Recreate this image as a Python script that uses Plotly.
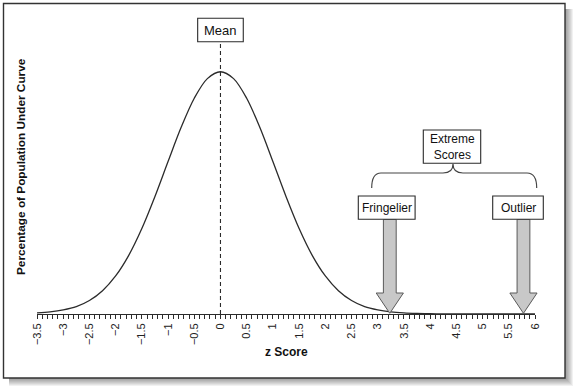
import plotly.graph_objects as go

# ---- data ----
z_scores = [-3.5, -3.25, -3.0, -2.75, -2.5, -2.25, -2.0, -1.75, -1.5, -1.25, -1.0, -0.75, -0.5, -0.25,
            0.0, 0.25, 0.5, 0.75, 1.0, 1.25, 1.5, 1.75, 2.0, 2.25, 2.5, 2.75, 3.0, 3.25, 3.5,
            3.75, 4.0, 4.25, 4.5, 4.75, 5.0, 5.25, 5.5, 5.75, 6.0]
percent_under_curve = [0.19, 0.35, 0.65, 1.16, 2.13, 3.69, 6.03, 9.30, 13.55, 18.63, 24.17, 29.59, 34.20, 37.31,
                       38.40, 37.31, 34.20, 29.59, 24.17, 18.63, 13.55, 9.30, 6.03, 3.69, 2.13, 1.16, 0.65, 0.35, 0.19,
                       0.10, 0.04, 0.02, 0.01, 0.0, 0.0, 0.0, 0.0, 0.0, 0.0]
tick_vals = [-3.5, -3, -2.5, -2, -1.5, -1, -0.5, 0, 0.5, 1, 1.5, 2, 2.5, 3, 3.5, 4, 4.5, 5, 5.5, 6]
tick_text = ["\u22123.5", "\u22123", "\u22122.5", "\u22122", "\u22121.5", "\u22121", "\u22120.5", "0", "0.5", "1",
             "1.5", "2", "2.5", "3", "3.5", "4", "4.5", "5", "5.5", "6"]
mean_z = 0.0
extreme_labels = ["Fringelier", "Outlier"]
extreme_z = [3.23, 5.78]

# ---- layout geometry (pixels) ----
W, H = 579, 390
L, R, T, B = 37, 44, 20, 76
PW, PH = W - L - R, H - T - B
X0, X1 = -3.5, 6.0
YMAX = 46.6
FONT = "Liberation Sans, Arial, Helvetica, sans-serif"
INK = "#2b2b2b"


def px(x):
    return (x - L) / PW


def py(y):
    return (H - B - y) / PH


def zpx(z):
    return L + (z - X0) / (X1 - X0) * PW


fig = go.Figure()
fig.add_trace(go.Scatter(x=z_scores, y=percent_under_curve, mode="lines",
                         line=dict(color=INK, width=1.3, shape="spline", smoothing=0.9),
                         hoverinfo="skip", showlegend=False))

shapes = []
# shadow
for k in range(1, 9):
    shapes.append(dict(type="rect", xref="paper", yref="paper", layer="below",
                       x0=px(9), y0=py(9), x1=px(565 + k), y1=py(378 + k),
                       fillcolor="rgba(0,0,0,0.055)", line=dict(width=0)))
# frame
shapes.append(dict(type="rect", xref="paper", yref="paper", layer="below",
                   x0=px(3.5), y0=py(3.5), x1=px(565), y1=py(378),
                   fillcolor="white", line=dict(color="#333333", width=1.4)))
# mean dashed line
shapes.append(dict(type="line", xref="x", yref="paper", x0=mean_z, x1=mean_z, y0=0, y1=py(41.7),
                   line=dict(color=INK, width=1.1, dash="4px,3px")))


def box(x0, y0, x1, y1):
    shapes.append(dict(type="rect", xref="paper", yref="paper", layer="above",
                       x0=px(x0), y0=py(y0), x1=px(x1), y1=py(y1),
                       fillcolor="white", line=dict(color=INK, width=1.1)))


mx = zpx(mean_z)
box(mx - 22.8, 18.3, mx + 22.8, 41.7)
box(423.3, 130, 480.7, 163.3)

# brace
bpts = [(371.7, 188), (371.7, 173), (381, 173), (443, 173), (453, 173), (453, 164),
        (453, 173), (463, 173), (527, 173), (536.7, 173), (536.7, 188)]
c = [(px(a), py(b)) for a, b in bpts]
brace = ("M {0[0]},{0[1]} Q {1[0]},{1[1]} {2[0]},{2[1]} L {3[0]},{3[1]} Q {4[0]},{4[1]} {5[0]},{5[1]} "
         "Q {6[0]},{6[1]} {7[0]},{7[1]} L {8[0]},{8[1]} Q {9[0]},{9[1]} {10[0]},{10[1]}").format(*c)
shapes.append(dict(type="path", xref="paper", yref="paper", path=brace,
                   line=dict(color="#444444", width=1.2)))

# arrows + boxes
box_centers = [386.7, 518.0]
box_half = [28.4, 25.3]
for zc, bc, bh in zip(extreme_z, box_centers, box_half):
    cx = zpx(zc)
    pts = [(cx - 6.4, 219.3), (cx - 6.4, 293), (cx - 13.6, 293), (cx, 313.3),
           (cx + 13.6, 293), (cx + 6.4, 293), (cx + 6.4, 219.3)]
    path = "M " + " L ".join(f"{px(a)},{py(b)}" for a, b in pts) + " Z"
    shapes.append(dict(type="path", xref="paper", yref="paper", path=path, layer="above",
                       fillcolor="#c8c8c8", line=dict(color="#5a5a5a", width=1)))
    box(bc - bh, 196, bc + bh, 219.3)

annotations = [
    dict(text="Mean", x=px(mx), y=py(30), xref="paper", yref="paper", showarrow=False,
         font=dict(size=13, color="#111", family=FONT), xanchor="center", yanchor="middle"),
    dict(text="Extreme<br>Scores", x=px(452), y=py(146.6), xref="paper", yref="paper", showarrow=False,
         font=dict(size=12, color="#111", family=FONT), xanchor="center", yanchor="middle"),
    dict(text="Percentage of Population Under Curve", x=px(21), y=py(167), xref="paper", yref="paper",
         showarrow=False, textangle=-90, font=dict(size=11.8, color="#111", family=FONT, weight="bold"),
         xanchor="center", yanchor="middle"),
    dict(text="z Score", x=px(286.5), y=py(351.7), xref="paper", yref="paper", showarrow=False,
         font=dict(size=12, color="#111", family=FONT, weight="bold"), xanchor="center", yanchor="middle"),
]
for lab, bc in zip(extreme_labels, box_centers):
    annotations.append(dict(text=lab, x=px(bc), y=py(207.6), xref="paper", yref="paper", showarrow=False,
                            font=dict(size=12, color="#111", family=FONT), xanchor="center", yanchor="middle"))

fig.update_layout(
    width=W, height=H, margin=dict(l=L, r=R, t=T, b=B),
    paper_bgcolor="white", plot_bgcolor="rgba(0,0,0,0)",
    shapes=shapes, annotations=annotations,
    xaxis=dict(range=[X0, X1], showgrid=False, zeroline=False, showline=True, linecolor=INK, linewidth=1,
               tickmode="array", tickvals=tick_vals, ticktext=tick_text, tickangle=-90,
               ticks="outside", ticklen=4, tickcolor=INK, tickwidth=1,
               tickfont=dict(size=11, color="#222", family=FONT),
               minor=dict(dtick=0.1, tick0=-3.5, ticks="outside", ticklen=4, tickcolor=INK, tickwidth=1)),
    yaxis=dict(range=[0, YMAX], visible=False),
)

fig.write_html("out.html", config={"displayModeBar": False},
               post_script="document.body.style.margin='0';document.body.style.overflow='hidden';")
